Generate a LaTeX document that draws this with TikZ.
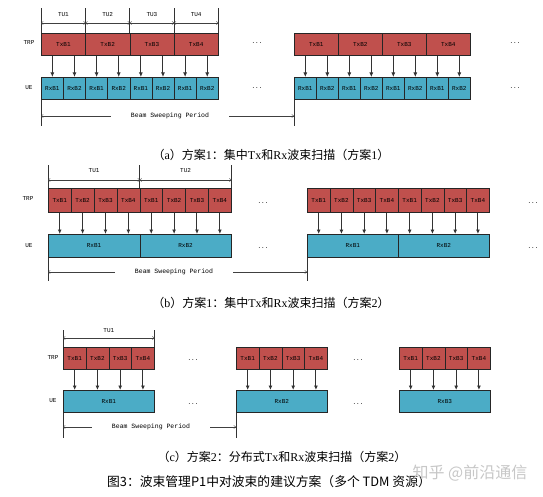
\documentclass[tikz,border=0pt]{standalone}
\usepackage{fontspec}
\setmainfont{Liberation Serif}
\newfontfamily\cjk{Noto Sans CJK SC}
\newfontfamily\diagfont{Liberation Mono}
\usetikzlibrary{arrows.meta,positioning}
\definecolor{trpred}{RGB}{192,80,77}
\definecolor{ueblue}{RGB}{75,172,198}
\newcommand\zh[1]{{\cjk #1}}
\tikzset{
    txbox/.style={
        rectangle, draw=black!85, line width=0.6pt,
        fill=trpred, minimum height=22pt, inner sep=0pt,
        anchor=north west,
        font=\diagfont\fontsize{6}{7}\selectfont
    },
    rxbox/.style={
        txbox, fill=ueblue
    },
    beam/.style={
        line width=1pt, draw=black!80,
        -{Latex[length=4.5pt,width=4pt]}
    },
    tick/.style={
        line width=0.5pt, draw=black!80
    },
    dim/.style={
        line width=0.4pt, draw=black!75,
        {To[length=2.5pt,width=3.5pt]}-{To[length=2.5pt,width=3.5pt]}
    },
    halfdim/.style={
        line width=0.4pt, draw=black!75,
        -{To[length=2.5pt,width=3.5pt]}
    },
    side/.style={
        inner sep=0pt, font=\diagfont\fontsize{6}{7}\selectfont
    },
    bsp/.style={
        inner xsep=20pt, inner ysep=0pt,
        font=\diagfont\fontsize{6.5}{7}\selectfont
    },
    caption/.style={
        inner sep=0pt, font=\fontsize{12}{14}\selectfont
    }
}

\begin{document}
\begin{tikzpicture}[x=1pt,y=-1pt]
    \useasboundingbox[fill=white] (0,0) rectangle (543,497);

    % (a) centralized, Rx beams inside each TU
    \foreach \n in {1,...,4}{
        \node[txbox, minimum width=44.25pt] (a-tx\n) at ({41+44.25*(\n-1)},33) {TxB\n};
        \node[txbox, minimum width=44pt] (a-txr\n) at ({294+44*(\n-1)},33) {TxB\n};
        \draw[tick] (a-tx\n.north west) -- ++(0pt,25pt);
        \draw[dim] ([yshift=10pt]a-tx\n.north west) -- ([yshift=10pt]a-tx\n.north east)
            node[midway, yshift=8pt, side] {TU\n};
    }
    \draw[tick] (a-tx4.north east) -- ++(0pt,25pt);
    \foreach \n in {1,...,8}{
        \pgfmathtruncatemacro\b{2-mod(\n,2)}
        \node[rxbox, minimum width=22.125pt] (a-rx\n) at ({41+22.125*(\n-1)},77) {RxB\b};
        \node[rxbox, minimum width=22pt] (a-rxr\n) at ({294+22*(\n-1)},77) {RxB\b};
        \draw[beam] (a-rx\n.north |- a-tx1.south) -- (a-rx\n.north);
        \draw[beam] (a-rxr\n.north |- a-txr1.south) -- (a-rxr\n.north);
    }
    \node[side] (a-trp) at (29,43) {TRP};
    \node[side] (a-ue) at (29,88) {UE};
    \node[side] (a-dt1) at (257,43) {...};
    \node[side] (a-du1) at (257,88) {...};
    \node[side] (a-dt2) at (515,43) {...};
    \node[side] (a-du2) at (515,88) {...};
    \node[bsp] (a-bsp) at (170,116) {Beam Sweeping Period};
    \draw[tick] (a-rx1.south west) -- ++(0pt,-26pt);
    \draw[tick] (a-rxr1.south west) -- ++(0pt,-26pt);
    \draw[halfdim] (a-bsp.west) -- (a-bsp.west -| a-rx1.south west);
    \draw[halfdim] (a-bsp.east) -- (a-bsp.east -| a-rxr1.south west);
    \node[caption] (cap-a) at (271,155)
        {\zh{（}a\zh{）方案}1\zh{：集中}Tx\zh{和}Rx\zh{波束扫描（方案}1\zh{）}};

    % (b) centralized, one Rx beam per TU
    \foreach \n in {1,...,8}{
        \pgfmathtruncatemacro\b{mod(\n-1,4)+1}
        \node[txbox, minimum width=22.875pt, minimum height=24pt] (b-tx\n) at ({48+22.875*(\n-1)},188) {TxB\b};
        \node[txbox, minimum width=22.75pt, minimum height=24pt] (b-txr\n) at ({307+22.75*(\n-1)},188) {TxB\b};
    }
    \foreach \n in {1,2}{
        \node[rxbox, minimum width=91.5pt, minimum height=23pt] (b-rx\n) at ({48+91.5*(\n-1)},234) {RxB\n};
        \node[rxbox, minimum width=91pt, minimum height=23pt] (b-rxr\n) at ({307+91*(\n-1)},234) {RxB\n};
    }
    \foreach \n in {1,...,8}{
        \draw[beam] (b-tx\n.south) -- (b-tx\n.south |- b-rx1.north);
        \draw[beam] (b-txr\n.south) -- (b-txr\n.south |- b-rxr1.north);
    }
    \draw[tick] (b-tx1.north west) -- ++(0pt,23pt);
    \draw[tick] (b-tx5.north west) -- ++(0pt,23pt);
    \draw[tick] (b-tx8.north east) -- ++(0pt,23pt);
    \draw[dim] ([yshift=8pt]b-tx1.north west) -- ([yshift=8pt]b-tx4.north east)
        node[midway, yshift=9pt, side] {TU1};
    \draw[dim] ([yshift=8pt]b-tx5.north west) -- ([yshift=8pt]b-tx8.north east)
        node[midway, yshift=9pt, side] {TU2};
    \node[side] (b-trp) at (28,199) {TRP};
    \node[side] (b-ue) at (29,246) {UE};
    \node[side] (b-dt1) at (263,203) {...};
    \node[side] (b-du1) at (263,248) {...};
    \node[side] (b-dt2) at (533,203) {...};
    \node[side] (b-du2) at (533,248) {...};
    \node[bsp] (b-bsp) at (174,272) {Beam Sweeping Period};
    \draw[tick] (b-rx1.south west) -- ++(0pt,-23pt);
    \draw[tick] (b-rxr1.south west) -- ++(0pt,-23pt);
    \draw[halfdim] (b-bsp.west) -- (b-bsp.west -| b-rx1.south west);
    \draw[halfdim] (b-bsp.east) -- (b-bsp.east -| b-rxr1.south west);
    \node[caption] (cap-b) at (271,303)
        {\zh{（}b\zh{）方案}1\zh{：集中}Tx\zh{和}Rx\zh{波束扫描（方案}2\zh{）}};

    % (c) distributed
    \foreach \g/\x in {1/63,2/236,3/399}{
        \foreach \n in {1,...,4}{
            \node[txbox, minimum width=22.75pt] (c-tx\g\n) at ({\x+22.75*(\n-1)},347) {TxB\n};
        }
        \node[rxbox, minimum width=91pt] (c-rx\g) at (\x,390) {RxB\g};
        \foreach \n in {1,...,4}{
            \draw[beam] (c-tx\g\n.south) -- (c-tx\g\n.south |- c-rx\g.north);
        }
    }
    \draw[tick] (c-tx11.north west) -- ++(0pt,17pt);
    \draw[tick] (c-tx14.north east) -- ++(0pt,17pt);
    \draw[dim] ([yshift=9pt]c-tx11.north west) -- ([yshift=9pt]c-tx14.north east)
        node[midway, yshift=7pt, side] {TU1};
    \node[side] (c-trp) at (53,358) {TRP};
    \node[side] (c-ue) at (53,401) {UE};
    \node[side] (c-dt1) at (193,360) {...};
    \node[side] (c-du1) at (193,404) {...};
    \node[side] (c-dt2) at (358,360) {...};
    \node[side] (c-du2) at (358,404) {...};
    \node[bsp] (c-bsp) at (151,427) {Beam Sweeping Period};
    \draw[tick] (c-rx1.south west) -- ++(0pt,-25pt);
    \draw[tick] (c-rx2.south west) -- ++(0pt,-25pt);
    \draw[halfdim] (c-bsp.west) -- (c-bsp.west -| c-rx1.south west);
    \draw[halfdim] (c-bsp.east) -- (c-bsp.east -| c-rx2.south west);
    \node[caption] (cap-c) at (282,457)
        {\zh{（}c\zh{）方案}2\zh{：分布式}Tx\zh{和}Rx\zh{波束扫描（方案}2\zh{）}};

    \node[caption, font=\cjk\fontsize{12.8}{14}\selectfont] (cap-fig) at (269,482)
        {图3：波束管理P1中对波束的建议方案（多个 TDM 资源）};
    \node[inner sep=0pt, text=black!22, font=\cjk\fontsize{16}{18}\selectfont] (mark) at (470,473)
        {知乎 @前沿通信};
\end{tikzpicture}
\end{document}
